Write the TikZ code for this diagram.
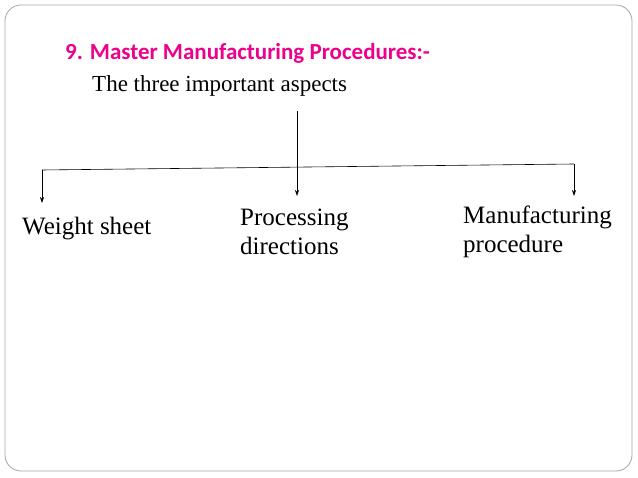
\documentclass[tikz,border=0pt]{standalone}
\usepackage{fontspec}
\usetikzlibrary{arrows.meta}
\setmainfont{Liberation Serif}
\newfontfamily\titlefont{Carlito}
\begin{document}
\begin{tikzpicture}[x=1pt,y=-1pt,
  lbl/.style={anchor=west,inner sep=0pt,font=\fontsize{25}{29}\selectfont,align=left},
  arr/.style={-{Stealth[length=6pt,width=4pt]},line width=0.6pt}]
\useasboundingbox (0,0) rectangle (638,478);
\draw[gray!70,line width=0.8pt,rounded corners=16pt] (5,5) rectangle (632,471);
\node[anchor=west,inner sep=0pt,text=magenta,font=\titlefont\bfseries\fontsize{23}{26}\selectfont] (title) at (65,53) {9. Master Manufacturing Procedures:-};
\node[anchor=west,inner sep=0pt,font=\fontsize{23}{26}\selectfont] (sub) at (92,86) {The three important aspects};
\coordinate (top) at (297,111);
\coordinate (hl) at (42,170);
\coordinate (hr) at (574,164);
\node[lbl] (w) at (22,229) {Weight sheet};
\node[lbl] (p) at (240,232) {Processing\\directions};
\node[lbl] (m) at (463,232) {Manufacturing\\procedure};
\draw[line width=0.6pt] (hl) -- (hr);
\draw[arr] (top) -- (297,196);
\draw[arr] (hl) -- (42,203);
\draw[arr] (hr) -- (574,196);
\end{tikzpicture}
\end{document}
